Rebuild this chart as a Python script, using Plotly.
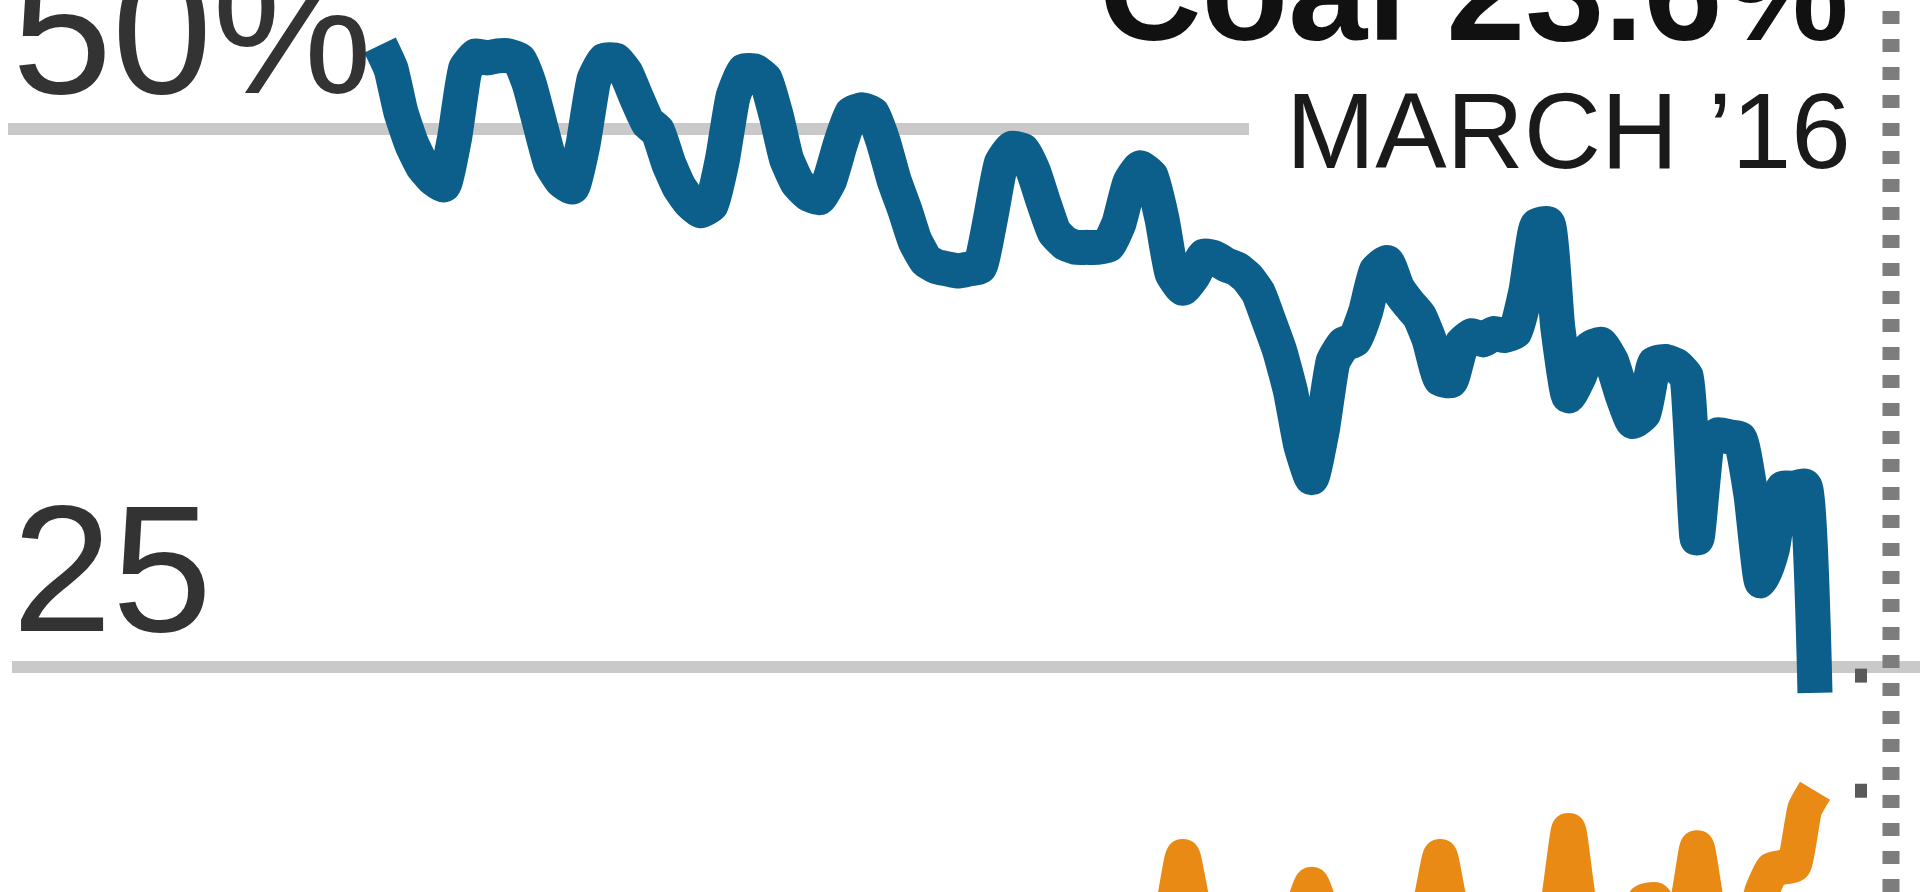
import pandas as pd
import plotly.graph_objects as go

# ---------------- data ----------------
START_MONTH = "2005-01-01"
coal_share = [
    53.9, 52.8, 50.8, 49.3, 48.3, 47.7, 47.4, 49.6, 52.8, 53.4, 53.3, 53.4,
    53.4, 53.2, 52.1, 50.2, 48.4, 47.6, 47.3, 49.3, 52.3, 53.2, 53.2, 52.6,
    51.4, 50.3, 49.9, 48.4, 47.3, 46.6, 46.2, 46.5, 48.6, 51.5, 52.7, 52.7,
    52.3, 50.6, 48.6, 47.5, 47.0, 46.8, 47.6, 49.3, 50.7, 50.9, 50.7, 49.4,
    47.6, 46.2, 44.8, 43.9, 43.6, 43.5, 43.4, 43.5, 43.6, 45.8, 48.4, 49.1,
    49.0, 48.0, 46.6, 45.2, 44.7, 44.5, 44.5, 44.5, 44.6, 45.6, 47.5, 48.2,
    47.8, 45.8, 43.3, 42.6, 43.2, 44.1, 44.0, 43.7, 43.5, 43.1, 42.4, 41.1,
    39.7, 37.8, 35.3, 33.8, 36.0, 39.2, 40.0, 40.2, 41.5, 43.4, 43.8, 42.6,
    41.9, 41.3, 40.2, 38.4, 38.3, 40.0, 40.4, 40.2, 40.5, 40.4, 40.6, 42.5,
    45.5, 45.6, 40.8, 37.6, 38.5, 39.8, 40.0, 39.2, 37.6, 36.4, 36.8, 39.1,
    39.2, 39.0, 38.5, 31.0, 35.3, 35.8, 35.7, 35.6, 33.0, 29.0, 30.5, 33.3,
    33.3, 33.4, 23.8,
]
renewables_share = [
    9.5, 9.3, 10.4, 11.0, 11.5, 10.8, 9.4, 8.6, 8.5, 9.1, 9.6, 9.8,
    10.4, 10.0, 11.3, 12.6, 12.9, 11.6, 9.6, 8.7, 8.8, 9.5, 10.1, 10.3,
    9.6, 9.0, 10.8, 11.7, 11.5, 10.4, 8.9, 8.2, 8.1, 8.7, 9.3, 9.9,
    10.2, 9.9, 11.4, 12.8, 13.0, 12.4, 10.3, 9.1, 8.8, 9.6, 10.6, 10.9,
    10.8, 11.2, 12.7, 13.3, 13.5, 13.0, 10.9, 9.6, 9.7, 11.2, 11.5, 10.9,
    10.8, 10.6, 12.4, 13.2, 13.5, 13.4, 10.8, 9.6, 9.5, 10.7, 11.8, 11.4,
    11.9, 12.6, 13.6, 16.2, 13.9, 13.0, 10.6, 9.6, 9.8, 11.4, 12.4, 12.0,
    12.0, 12.6, 13.5, 14.9, 13.6, 12.6, 10.4, 9.5, 9.9, 11.2, 12.6, 12.4,
    12.3, 13.0, 13.8, 16.2, 13.9, 13.2, 11.0, 10.0, 10.2, 12.0, 13.4, 13.0,
    12.6, 13.1, 14.0, 17.4, 14.1, 13.3, 11.1, 10.2, 10.4, 12.6, 14.1, 14.2,
    13.4, 13.7, 13.9, 16.6, 13.9, 13.2, 11.4, 10.6, 12.0, 14.5, 15.6, 15.7,
    15.8, 18.4, 19.25,
]
tick_values = [50, 25]
tick_labels = ["50%", "25"]
end_label = "Coal 23.6%"
end_date_label = "MARCH \u201916"

months = pd.date_range(START_MONTH, periods=len(coal_share), freq="MS")

# ---------------- layout geometry (pixels) ----------------
W, H = 1920, 892
X_FIRST_PX, X_LAST_PX = 380, 1815
Y50_PX, Y25_PX = 129, 667

px_per_day = (X_LAST_PX - X_FIRST_PX) / (months[-1] - months[0]).days
x_left = months[0] - pd.Timedelta(days=X_FIRST_PX / px_per_day)
x_right = months[0] + pd.Timedelta(days=(W - X_FIRST_PX) / px_per_day)
px_per_unit = (Y25_PX - Y50_PX) / 25.0
y_top = 50 + Y50_PX / px_per_unit
y_bot = 50 - (H - Y50_PX) / px_per_unit

def px_x(p):
    return p / W

def px_y(p):
    return 1 - p / H

BLUE = "#0b5f8a"
ORANGE = "#e98a14"
GRID = "#c9c9c9"
DOTS = "#7d7d7d"
LINE_W = 35

fig = go.Figure()
fig.add_trace(go.Scatter(x=months, y=renewables_share, mode="lines",
                         line=dict(color=ORANGE, width=LINE_W, shape="spline", smoothing=0.4),
                         hoverinfo="skip", showlegend=False))
fig.add_trace(go.Scatter(x=months, y=coal_share, mode="lines",
                         line=dict(color=BLUE, width=LINE_W, shape="spline", smoothing=0.4),
                         hoverinfo="skip", showlegend=False))

shapes = []
# gridlines
shapes.append(dict(type="line", xref="paper", yref="y", x0=px_x(8), x1=px_x(1249),
                   y0=tick_values[0], y1=tick_values[0],
                   line=dict(color=GRID, width=12), layer="below"))
shapes.append(dict(type="line", xref="paper", yref="y", x0=px_x(12), x1=1,
                   y0=tick_values[1], y1=tick_values[1],
                   line=dict(color=GRID, width=12), layer="below"))
# dotted end line
shapes.append(dict(type="line", xref="paper", yref="paper", x0=px_x(1891), x1=px_x(1891),
                   y0=0, y1=1, line=dict(color=DOTS, width=17, dash="13px,15px")))
# leader dots next to the last values
for v in (coal_share[-1] + 0.8, renewables_share[-1]):
    shapes.append(dict(type="line", xref="paper", yref="y", x0=px_x(1855), x1=px_x(1867),
                       y0=v, y1=v, line=dict(color="#5a5a5a", width=14)))

annotations = []
for v, t in zip(tick_values, tick_labels):
    annotations.append(dict(text=t, xref="paper", yref="y", x=px_x(10), y=v,
                            xanchor="left", yanchor="bottom", showarrow=False,
                            yshift=-4,
                            font=dict(family="Liberation Sans", size=180, color="#333333")))
annotations.append(dict(text="<b>" + end_label + "</b>", xref="paper", yref="paper",
                        x=px_x(1851), y=px_y(-9), xanchor="right", yanchor="middle",
                        showarrow=False,
                        font=dict(family="Liberation Sans", size=142, color="#111111")))
annotations.append(dict(text=end_date_label, xref="paper", yref="paper",
                        x=px_x(1853), y=px_y(131), xanchor="right", yanchor="middle",
                        showarrow=False,
                        font=dict(family="Liberation Sans", size=107, color="#1a1a1a")))

fig.update_layout(
    width=W, height=H,
    margin=dict(l=0, r=0, t=0, b=0),
    paper_bgcolor="white", plot_bgcolor="white",
    xaxis=dict(visible=False, range=[x_left, x_right]),
    yaxis=dict(visible=False, range=[y_bot, y_top]),
    shapes=shapes, annotations=annotations,
)
fig.write_html("out.html",
               config={"displayModeBar": False},
               post_script="document.body.style.margin='0';document.body.style.overflow='hidden';")
